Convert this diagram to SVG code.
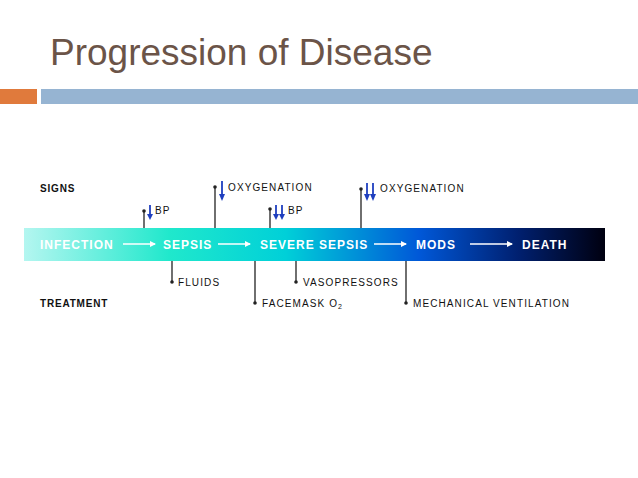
<svg xmlns="http://www.w3.org/2000/svg" width="638" height="478" viewBox="0 0 638 478">
<defs>
<linearGradient id="g" x1="0" x2="1" y1="0" y2="0">
<stop offset="0" stop-color="#b4f6f0"/>
<stop offset="0.25" stop-color="#20e8cc"/>
<stop offset="0.45" stop-color="#00d0d8"/>
<stop offset="0.68" stop-color="#0058d8"/>
<stop offset="0.85" stop-color="#002070"/>
<stop offset="1" stop-color="#000010"/>
</linearGradient>
<marker id="wa" markerWidth="6" markerHeight="6" refX="5" refY="3" orient="auto" markerUnits="userSpaceOnUse"><path d="M0,0L6,3L0,6z" fill="#fff"/></marker>
<style>
.t{font-family:"Liberation Sans",Arial,sans-serif}
.w{fill:#fff;font-weight:bold;font-size:12px;letter-spacing:1px}
.k{fill:#111;font-size:10px;letter-spacing:1.1px}
.h{fill:#111;font-weight:bold;font-size:10px;letter-spacing:0.8px}
.l{stroke:#222;stroke-width:1.3}
.b{stroke:#1f3fbf;stroke-width:1.8}
.bh{fill:#1f3fbf}
</style>
</defs>
<rect width="638" height="478" fill="#fff"/>
<text class="t" x="50" y="65" font-size="37" fill="#6b5448">Progression of Disease</text>
<rect x="0" y="89" width="37" height="15" fill="#e07a3c"/>
<rect x="41" y="89" width="597" height="15" fill="#96b4d2"/>
<g id="bar">
<rect x="24" y="228" width="581" height="33" fill="url(#g)"/>
<text class="t w" x="40" y="249">INFECTION</text>
<text class="t w" x="163" y="249">SEPSIS</text>
<text class="t w" x="260" y="249">SEVERE SEPSIS</text>
<text class="t w" x="416" y="249">MODS</text>
<text class="t w" x="522" y="249">DEATH</text>
</g>
<g id="connectors" fill="none">
<line x1="123" y1="244" x2="155" y2="244" stroke="#fff" stroke-width="1.5" marker-end="url(#wa)"/>
<line x1="218" y1="244" x2="250" y2="244" stroke="#fff" stroke-width="1.5" marker-end="url(#wa)"/>
<line x1="374" y1="244" x2="406" y2="244" stroke="#fff" stroke-width="1.5" marker-end="url(#wa)"/>
<line x1="470" y1="244" x2="512" y2="244" stroke="#fff" stroke-width="1.5" marker-end="url(#wa)"/>
<line class="l" x1="144" y1="211" x2="144" y2="228"/>
<line class="l" x1="215" y1="187" x2="215" y2="228"/>
<line class="l" x1="270" y1="209" x2="270" y2="228"/>
<line class="l" x1="361" y1="189" x2="361" y2="228"/>
<line class="l" x1="172" y1="261" x2="172" y2="282"/>
<line class="l" x1="255" y1="261" x2="255" y2="303"/>
<line class="l" x1="296" y1="261" x2="296" y2="282"/>
<line class="l" x1="406" y1="261" x2="406" y2="303"/>
<g fill="#222">
<circle cx="144" cy="211" r="1.8"/><circle cx="215" cy="187" r="1.8"/><circle cx="270" cy="209" r="1.8"/><circle cx="361" cy="189" r="1.8"/>
<circle cx="172" cy="282" r="1.8"/><circle cx="255" cy="303" r="1.8"/><circle cx="296" cy="282" r="1.8"/><circle cx="406" cy="303" r="1.8"/>
</g>
<line class="b" x1="150" y1="205" x2="150" y2="215"/><path class="bh" d="M147,214h6l-3,6z"/>
<line class="b" x1="222" y1="181" x2="222" y2="195"/><path class="bh" d="M219,194h6l-3,7z"/>
<line class="b" x1="276" y1="205" x2="276" y2="215"/><path class="bh" d="M273,214h6l-3,6z"/>
<line class="b" x1="282" y1="205" x2="282" y2="215"/><path class="bh" d="M279,214h6l-3,6z"/>
<line class="b" x1="367" y1="183" x2="367" y2="195"/><path class="bh" d="M364,194h6l-3,7z"/>
<line class="b" x1="373" y1="183" x2="373" y2="195"/><path class="bh" d="M370,194h6l-3,7z"/>
</g>
<g id="labels">
<text class="t h" x="40" y="192">SIGNS</text>
<text class="t h" x="40" y="307">TREATMENT</text>
<text class="t k" x="155" y="214">BP</text>
<text class="t k" x="228" y="191">OXYGENATION</text>
<text class="t k" x="288" y="214">BP</text>
<text class="t k" x="380" y="192">OXYGENATION</text>
<text class="t k" x="178" y="286">FLUIDS</text>
<text class="t k" x="262" y="307">FACEMASK O<tspan font-size="7" dy="2">2</tspan></text>
<text class="t k" x="303" y="286">VASOPRESSORS</text>
<text class="t k" x="413" y="307">MECHANICAL VENTILATION</text>
</g>
</svg>
